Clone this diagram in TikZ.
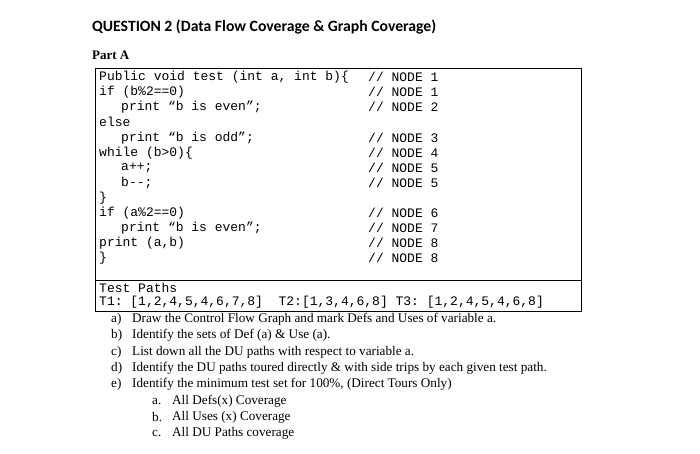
\documentclass[tikz,border=0pt]{standalone}
\usepackage{fontspec}
\setmainfont{Liberation Serif}
\newfontfamily\titlefont{Carlito}
\setmonofont{Liberation Mono}
\tikzset{
  codeline/.style = {anchor = west, inner sep = 0pt, font = \ttfamily\fontsize{13}{14}\selectfont},
  itemline/.style = {anchor = west, inner sep = 0pt, font = \fontsize{13.2}{14}\selectfont},
  framebox/.style = {draw, line width = 0.6pt}
}
\begin{document}
\begin{tikzpicture}[x = 1pt, y = -1pt]
    \useasboundingbox (0, 0) rectangle (700, 453);

    %%% Heading
    \node (title) at (92, 27) [anchor = west, inner sep = 0pt, font = \titlefont\bfseries\fontsize{15.7}{17}\selectfont]{QUESTION 2 (Data Flow Coverage \& Graph Coverage)};
    \node (part) at (92, 55) [anchor = west, inner sep = 0pt, font = \bfseries\fontsize{13}{15}\selectfont]{Part A};

    %%% Boxes
    \draw[framebox] (95, 68) rectangle (581, 280);
    \draw[framebox] (95, 280) rectangle (581, 311);

    % Code %
    \foreach \ypos/\xpos/\code [count = \i] in {
        77/99/{Public void test (int a, int b)\{},
        92/99/{if (b\%2==0)},
        107/121/{print “b is even”;},
        122/99/{else},
        138/121/{print “b is odd”;},
        153/99/{while (b>0)\{},
        168/121/{a++;},
        183/121/{b-{}-;},
        198/99/{\}},
        213/99/{if (a\%2==0)},
        228/121/{print “b is even”;},
        243/99/{print (a,b)},
        258/99/{\}}}
        \node (code\i) at (\xpos, \ypos) [codeline]{\code};

    % Node comments %
    \foreach \ypos/\num [count = \i] in {77/1, 92/1, 107/2, 138/3, 153/4, 168/5, 183/5, 213/6, 228/7, 243/8, 258/8}
        \node (cmt\i) at (368, \ypos) [codeline]{// NODE \num};

    % Test paths %
    \node (tp) at (99, 288) [codeline]{Test Paths};
    \node (tpaths) at (99, 302) [codeline]{T1: [1,2,4,5,4,6,7,8]\ \ T2:[1,3,4,6,8] T3: [1,2,4,5,4,6,8]};

    %%% Questions
    \foreach \ypos/\lbl/\txt [count = \i] in {
        319/a)/{Draw the Control Flow Graph and mark Defs and Uses of variable a.},
        335/b)/{Identify the sets of Def (a) \& Use (a).},
        352/c)/{List down all the DU paths with respect to variable a.},
        368/d)/{Identify the DU paths toured directly \& with side trips by each given test path.},
        384/e)/{Identify the minimum test set for 100\%, (Direct Tours Only)}}{
        \node (qlbl\i) at (111, \ypos) [itemline]{\lbl};
        \node (q\i) at (132, \ypos) [itemline]{\txt};
    }
    \foreach \ypos/\lbl/\txt [count = \i] in {
        401/a./{All Defs(x) Coverage},
        417/b./{All Uses (x) Coverage},
        433/c./{All DU Paths coverage}}{
        \node (slbl\i) at (152, \ypos) [itemline]{\lbl};
        \node (s\i) at (172, \ypos) [itemline]{\txt};
    }
\end{tikzpicture}
\end{document}
